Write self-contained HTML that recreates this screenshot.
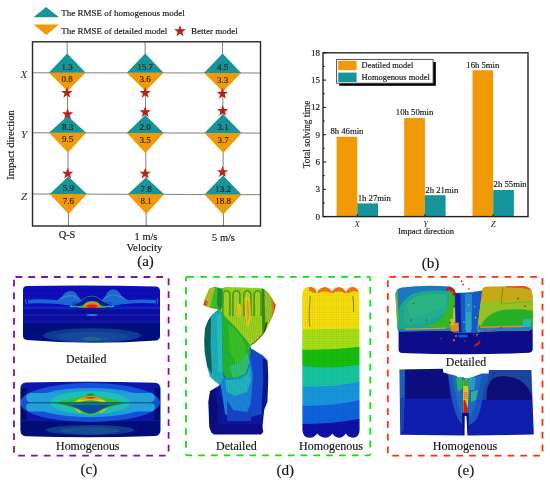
<!DOCTYPE html>
<html><head><meta charset="utf-8"><title>Figure</title>
<style>
html,body{margin:0;padding:0;background:#fff;}
svg{display:block;font-family:"Liberation Serif",serif;}
text{fill:#141414;stroke:#141414;stroke-width:0.15px;}
</style></head>
<body>
<svg width="550" height="480" viewBox="0 0 550 480">
<defs>
<filter id="bl" x="-5%" y="-5%" width="110%" height="110%"><feGaussianBlur stdDeviation="0.5"/></filter>
<pattern id="lines" width="2.2" height="8" patternUnits="userSpaceOnUse" patternTransform="rotate(6)"><path d="M0.6,0 L0.6,8" stroke="#002010" stroke-opacity="0.2" stroke-width="0.7" fill="none"/></pattern>
<pattern id="mesh3" width="1.8" height="1.8" patternUnits="userSpaceOnUse"><path d="M0,0 L1.8,0 M0,0 L0,1.8" stroke="#001030" stroke-opacity="0.2" stroke-width="0.45" fill="none"/></pattern>
<pattern id="mesh2" width="2" height="2" patternUnits="userSpaceOnUse"><path d="M0,0 L2,0 M0,0 L0,2" stroke="#000" stroke-opacity="0.22" stroke-width="0.5" fill="none"/></pattern>
<pattern id="mesh" width="2.4" height="2.4" patternUnits="userSpaceOnUse"><path d="M0,0 L2.4,0 M0,0 L0,2.4" stroke="#000" stroke-opacity="0.16" stroke-width="0.5" fill="none"/></pattern>
</defs>
<rect width="550" height="480" fill="#fff"/>
<g id="pa">
<polygon points="33.5,17.2 59,17.2 46.2,7" fill="#15959a"/>
<polygon points="33.5,24.6 59,24.6 46.2,35" fill="#f09a08"/>
<text x="61.3" y="16.3" font-size="9">The RMSE of homogenous model</text>
<text x="61.3" y="34.2" font-size="9">The RMSE of detailed model</text>
<polygon points="180.00,25.00 181.46,29.19 185.90,29.28 182.36,31.97 183.64,36.22 180.00,33.68 176.36,36.22 177.64,31.97 174.10,29.28 178.54,29.19" fill="#b8221a"/>
<text x="191" y="34.2" font-size="9">Better model</text>
<line x1="67.1" y1="41.8" x2="68.5" y2="226" stroke="#808080" stroke-width="1"/>
<line x1="145.1" y1="41.8" x2="146.2" y2="226" stroke="#808080" stroke-width="1"/>
<line x1="222.5" y1="41.8" x2="223.5" y2="226" stroke="#808080" stroke-width="1"/>
<line x1="32.5" y1="72.8" x2="260.5" y2="73.0" stroke="#808080" stroke-width="1"/>
<line x1="32.5" y1="132.8" x2="260.5" y2="133.1" stroke="#808080" stroke-width="1"/>
<line x1="32.5" y1="194.0" x2="260.5" y2="194.7" stroke="#808080" stroke-width="1"/>
<rect x="32.5" y="41.8" width="228.0" height="184.2" fill="none" stroke="#262626" stroke-width="1.4"/>
<polygon points="48.800000000000004,72.8 85.6,72.8 67.2,53.5" fill="#15959a"/>
<polygon points="48.800000000000004,72.8 85.6,72.8 67.5,91.1" fill="#f09a08"/>
<text x="67.2" y="70.2" font-size="9" text-anchor="middle" style="stroke-width:0.1px">1.3</text>
<text x="67.2" y="82.3" font-size="9" text-anchor="middle" style="stroke-width:0.1px">0.8</text>
<polygon points="126.79999999999998,72.8 163.6,72.8 145.2,53.5" fill="#15959a"/>
<polygon points="126.79999999999998,72.8 163.6,72.8 145.5,90.9" fill="#f09a08"/>
<text x="145.2" y="70.2" font-size="9" text-anchor="middle" style="stroke-width:0.1px">15.7</text>
<text x="145.2" y="82.3" font-size="9" text-anchor="middle" style="stroke-width:0.1px">3.6</text>
<polygon points="204.0,73 241.2,73 222.6,53.5" fill="#15959a"/>
<polygon points="204.0,73 241.2,73 222.9,91.5" fill="#f09a08"/>
<text x="222.6" y="70.4" font-size="9" text-anchor="middle" style="stroke-width:0.1px">4.5</text>
<text x="222.6" y="82.5" font-size="9" text-anchor="middle" style="stroke-width:0.1px">3.3</text>
<polygon points="48.99999999999999,132.8 86.19999999999999,132.8 67.6,115.9" fill="#15959a"/>
<polygon points="48.99999999999999,132.8 86.19999999999999,132.8 67.89999999999999,152.5" fill="#f09a08"/>
<text x="67.6" y="130.20000000000002" font-size="9" text-anchor="middle" style="stroke-width:0.1px">8.3</text>
<text x="67.6" y="142.3" font-size="9" text-anchor="middle" style="stroke-width:0.1px">9.5</text>
<polygon points="126.79999999999998,133 163.6,133 145.2,115" fill="#15959a"/>
<polygon points="126.79999999999998,133 163.6,133 145.5,153" fill="#f09a08"/>
<text x="145.2" y="130.4" font-size="9" text-anchor="middle" style="stroke-width:0.1px">2.0</text>
<text x="145.2" y="142.5" font-size="9" text-anchor="middle" style="stroke-width:0.1px">3.5</text>
<polygon points="204.5,133 241.5,133 223,114" fill="#15959a"/>
<polygon points="204.5,133 241.5,133 223.3,153" fill="#f09a08"/>
<text x="223" y="130.4" font-size="9" text-anchor="middle" style="stroke-width:0.1px">3.1</text>
<text x="223" y="142.5" font-size="9" text-anchor="middle" style="stroke-width:0.1px">3.7</text>
<polygon points="49.8,194 86.8,194 68.3,176.5" fill="#15959a"/>
<polygon points="49.8,194 86.8,194 68.6,214" fill="#f09a08"/>
<text x="68.3" y="191.4" font-size="9" text-anchor="middle" style="stroke-width:0.1px">5.9</text>
<text x="68.3" y="203.5" font-size="9" text-anchor="middle" style="stroke-width:0.1px">7.6</text>
<polygon points="127.8,194.2 164.2,194.2 146,177.39999999999998" fill="#15959a"/>
<polygon points="127.8,194.2 164.2,194.2 146.3,214.0" fill="#f09a08"/>
<text x="146" y="191.6" font-size="9" text-anchor="middle" style="stroke-width:0.1px">7.8</text>
<text x="146" y="203.7" font-size="9" text-anchor="middle" style="stroke-width:0.1px">8.1</text>
<polygon points="204.5,194.5 241.5,194.5 223,175.5" fill="#15959a"/>
<polygon points="204.5,194.5 241.5,194.5 223.3,214.5" fill="#f09a08"/>
<text x="223" y="191.9" font-size="9" text-anchor="middle" style="stroke-width:0.1px">13.2</text>
<text x="223" y="204.0" font-size="9" text-anchor="middle" style="stroke-width:0.1px">18.8</text>
<polygon points="66.90,86.90 68.31,90.96 72.61,91.05 69.18,93.64 70.43,97.75 66.90,95.30 63.37,97.75 64.62,93.64 61.19,91.05 65.49,90.96" fill="#b8221a"/>
<polygon points="145.20,86.90 146.61,90.96 150.91,91.05 147.48,93.64 148.73,97.75 145.20,95.30 141.67,97.75 142.92,93.64 139.49,91.05 143.79,90.96" fill="#b8221a"/>
<polygon points="222.40,87.80 223.81,91.86 228.11,91.95 224.68,94.54 225.93,98.65 222.40,96.20 218.87,98.65 220.12,94.54 216.69,91.95 220.99,91.86" fill="#b8221a"/>
<polygon points="67.60,108.20 69.01,112.26 73.31,112.35 69.88,114.94 71.13,119.05 67.60,116.60 64.07,119.05 65.32,114.94 61.89,112.35 66.19,112.26" fill="#b8221a"/>
<polygon points="145.20,106.20 146.61,110.26 150.91,110.35 147.48,112.94 148.73,117.05 145.20,114.60 141.67,117.05 142.92,112.94 139.49,110.35 143.79,110.26" fill="#b8221a"/>
<polygon points="222.70,104.90 224.11,108.96 228.41,109.05 224.98,111.64 226.23,115.75 222.70,113.30 219.17,115.75 220.42,111.64 216.99,109.05 221.29,108.96" fill="#b8221a"/>
<polygon points="67.70,167.70 69.11,171.76 73.41,171.85 69.98,174.44 71.23,178.55 67.70,176.10 64.17,178.55 65.42,174.44 61.99,171.85 66.29,171.76" fill="#b8221a"/>
<polygon points="145.20,167.60 146.61,171.66 150.91,171.75 147.48,174.34 148.73,178.45 145.20,176.00 141.67,178.45 142.92,174.34 139.49,171.75 143.79,171.66" fill="#b8221a"/>
<polygon points="222.50,166.10 223.91,170.16 228.21,170.25 224.78,172.84 226.03,176.95 222.50,174.50 218.97,176.95 220.22,172.84 216.79,170.25 221.09,170.16" fill="#b8221a"/>
<text x="24" y="78.0" font-size="11.2" font-style="italic" text-anchor="middle" style="fill:#232b40;stroke:none">X</text>
<text x="24" y="138.3" font-size="11.2" font-style="italic" text-anchor="middle" style="fill:#232b40;stroke:none">Y</text>
<text x="24" y="199.6" font-size="11.2" font-style="italic" text-anchor="middle" style="fill:#232b40;stroke:none">Z</text>
<text transform="translate(14,145) rotate(-90)" font-size="10.6" text-anchor="middle">Impact direction</text>
<text x="67" y="237.5" font-size="10.4" text-anchor="middle">Q-S</text>
<text x="146" y="239.5" font-size="10.4" text-anchor="middle">1 m/s</text>
<text x="223.5" y="240.5" font-size="10.4" text-anchor="middle">5 m/s</text>
<text x="144.5" y="250.5" font-size="10.8" text-anchor="middle">Velocity</text>
<text x="145.5" y="266" font-size="15" text-anchor="middle">(a)</text>
</g>
<g id="pb">
<rect x="336.6" y="136.79" width="20.7" height="79.81" fill="#f09a08"/>
<rect x="357.3" y="203.41" width="20.7" height="13.20" fill="#15959a"/>
<text x="346.95" y="134.19" font-size="8.7" text-anchor="middle">8h 46min</text>
<text x="374.25000000000006" y="200.81" font-size="8.7" text-anchor="middle">1h 27min</text>
<line x1="357.3" y1="216.6" x2="357.3" y2="214.1" stroke="#111" stroke-width="1"/>
<rect x="404.2" y="118.05" width="20.7" height="98.55" fill="#f09a08"/>
<rect x="424.9" y="195.21" width="20.7" height="21.39" fill="#15959a"/>
<text x="414.54999999999995" y="115.45" font-size="8.7" text-anchor="middle">10h 50min</text>
<text x="441.85" y="192.61" font-size="8.7" text-anchor="middle">2h 21min</text>
<line x1="424.9" y1="216.6" x2="424.9" y2="214.1" stroke="#111" stroke-width="1"/>
<rect x="472.5" y="70.27" width="20.7" height="146.33" fill="#f09a08"/>
<rect x="493.2" y="190.03" width="20.7" height="26.57" fill="#15959a"/>
<text x="482.84999999999997" y="67.67" font-size="8.7" text-anchor="middle">16h 5min</text>
<text x="510.15000000000003" y="187.43" font-size="8.7" text-anchor="middle">2h 55min</text>
<line x1="493.2" y1="216.6" x2="493.2" y2="214.1" stroke="#111" stroke-width="1"/>
<rect x="323" y="52.8" width="205" height="163.8" fill="none" stroke="#262626" stroke-width="1.4"/>
<line x1="323" y1="216.60" x2="326" y2="216.60" stroke="#111" stroke-width="1"/>
<text x="320" y="219.60" font-size="9" text-anchor="end">0</text>
<line x1="323" y1="202.95" x2="324.8" y2="202.95" stroke="#111" stroke-width="0.9"/>
<line x1="323" y1="189.30" x2="326" y2="189.30" stroke="#111" stroke-width="1"/>
<text x="320" y="192.30" font-size="9" text-anchor="end">3</text>
<line x1="323" y1="175.65" x2="324.8" y2="175.65" stroke="#111" stroke-width="0.9"/>
<line x1="323" y1="162.00" x2="326" y2="162.00" stroke="#111" stroke-width="1"/>
<text x="320" y="165.00" font-size="9" text-anchor="end">6</text>
<line x1="323" y1="148.35" x2="324.8" y2="148.35" stroke="#111" stroke-width="0.9"/>
<line x1="323" y1="134.70" x2="326" y2="134.70" stroke="#111" stroke-width="1"/>
<text x="320" y="137.70" font-size="9" text-anchor="end">9</text>
<line x1="323" y1="121.05" x2="324.8" y2="121.05" stroke="#111" stroke-width="0.9"/>
<line x1="323" y1="107.40" x2="326" y2="107.40" stroke="#111" stroke-width="1"/>
<text x="320" y="110.40" font-size="9" text-anchor="end">12</text>
<line x1="323" y1="93.75" x2="324.8" y2="93.75" stroke="#111" stroke-width="0.9"/>
<line x1="323" y1="80.10" x2="326" y2="80.10" stroke="#111" stroke-width="1"/>
<text x="320" y="83.10" font-size="9" text-anchor="end">15</text>
<line x1="323" y1="66.45" x2="324.8" y2="66.45" stroke="#111" stroke-width="0.9"/>
<line x1="323" y1="52.80" x2="326" y2="52.80" stroke="#111" stroke-width="1"/>
<text x="320" y="55.80" font-size="9" text-anchor="end">18</text>
<rect x="339.2" y="62" width="96.6" height="23.8" fill="#000"/>
<rect x="336.6" y="59.4" width="96.5" height="23.8" fill="#fff" stroke="#444" stroke-width="0.9"/>
<rect x="338.2" y="60.8" width="18.4" height="9.4" fill="#f09a08"/>
<rect x="338.2" y="72.6" width="18.4" height="9.4" fill="#15959a"/>
<text x="361.6" y="68.2" font-size="8.45">Deatiled model</text>
<text x="361.6" y="80.2" font-size="8.45">Homogenous model</text>
<text x="357.3" y="226.6" font-size="8.8" font-style="italic" text-anchor="middle" style="fill:#232b40;stroke:none">X</text>
<text x="425.6" y="226.6" font-size="8.6" font-style="italic" text-anchor="middle" style="fill:#232b40;stroke:none">Y</text>
<text x="493.2" y="226.6" font-size="8.8" font-style="italic" text-anchor="middle" style="fill:#232b40;stroke:none">Z</text>
<text x="426" y="234.4" font-size="8.5" text-anchor="middle">Impact direction</text>
<text transform="translate(309.6,134.4) rotate(-90)" font-size="9.3" text-anchor="middle">Total solving time</text>
<text x="430.5" y="268" font-size="15.2" text-anchor="middle">(b)</text>
</g>
<g id="pc">
<rect x="14" y="277" width="154.6" height="178.60000000000002" fill="none" stroke="#7a12b4" stroke-width="1.8" stroke-dasharray="6.8 6" rx="1.5"/>
<clipPath id="cpC1"><path d="M27,286 Q90,284.6 156,286.6 Q160,287 160,291 L160,336 Q160,340 156,340.4 Q92,345.5 27,340 Q23,339.6 23,336 L23,290 Q23,286.2 27,286 Z"/></clipPath>
<g clip-path="url(#cpC1)" filter="url(#bl)">
<rect x="20" y="283" width="145" height="64" fill="#0909ac"/>
<rect x="20" y="283" width="145" height="17" fill="#0b0cbc"/>
<rect x="20" y="290" width="145" height="1.2" fill="#0707a0"/>
<rect x="20" y="294.6" width="145" height="1.6" fill="#0707a0"/>
<rect x="20" y="306.5" width="145" height="3" fill="#0b22d0"/>
<rect x="20" y="309.5" width="145" height="4.5" fill="#070e98"/>
<rect x="20" y="314" width="145" height="2.6" fill="#0a1cb4"/>
<rect x="20" y="316.6" width="145" height="4.4" fill="#070e98"/>
<rect x="20" y="321" width="145" height="2.4" fill="#0918aa"/>
<rect x="20" y="323.4" width="145" height="24" fill="#060c7c"/>
<ellipse cx="92" cy="335.5" rx="49" ry="7.2" fill="#103c92"/>
<ellipse cx="92" cy="336.5" rx="36" ry="5" fill="#144a9a"/>
<ellipse cx="92" cy="338.8" rx="10" ry="2" fill="#1a6a86"/>
<path d="M28,300 Q40,298.5 60,300.5 Q72,302 80,306 L104,306 Q112,302 125,300.5 Q140,299 156,300 L156,303.4 Q140,302.6 125,304 Q112,305.4 104,308.4 L80,308.4 Q70,305 58,304 Q40,302.6 28,303.6 Z" fill="#1668d4"/>
<path d="M26,298.6 Q24.6,302 27,304.6" stroke="#2a7ad8" stroke-width="1" fill="none"/>
<path d="M157,298.6 Q159,302 156.6,304.6" stroke="#2a7ad8" stroke-width="1" fill="none"/>
<path d="M54,301.4 Q60,299.5 63.5,294.5 Q66,291 70.5,291 Q75,291 77,295 Q79.5,299.6 84,301.6 Q70,304.4 54,301.4 Z" fill="#1e68cc"/>
<path d="M99,301.6 Q104,299.6 106.5,294 Q108.5,289.4 113,289.4 Q117.5,289.4 120,293.5 Q123.5,299.5 132,301.2 Q114,304.4 99,301.6 Z" fill="#1e68cc"/>
<path d="M60,299 Q66,295.6 70.5,295.6 Q75,295.6 79,299" stroke="#3088d8" stroke-width="1.2" fill="none"/>
<path d="M104,298.6 Q109,295 113,295 Q118,295 124,298.6" stroke="#3088d8" stroke-width="1.2" fill="none"/>
<path d="M74,306.4 Q79,305 83,301 Q87,297.4 91.8,297.4 Q96.6,297.4 100.6,301 Q104.6,305 110,306.4 L110,308 L74,308 Z" fill="#0a14a0"/>
<path d="M72,305.6 Q79,304.6 83,300.6 Q87,297 91.8,297 Q96.6,297 100.6,300.6 Q104.6,304.6 112,305.6" fill="none" stroke="#060c60" stroke-width="1"/>
<path d="M72,304.4 Q79,303.6 83,299.6 Q87,296 91.8,296 Q96.6,296 100.6,299.6 Q104.6,303.6 112,304.4" fill="none" stroke="#2270d0" stroke-width="0.9"/>
<path d="M70,305.4 Q78,306.6 84,306 L84,307.8 L70,307 Z" fill="#22b0c0"/>
<path d="M114,305.4 Q106,306.6 100,306 L100,307.8 L114,307 Z" fill="#22b0c0"/>
<path d="M78,306.4 L84,305 L84,307.8 L78,307.6 Z" fill="#30c040"/>
<path d="M106,306.4 L100,305 L100,307.8 L106,307.6 Z" fill="#30c040"/>
<path d="M81.4,307.8 Q84,303.6 86.4,302 Q91.8,300.2 97.6,302 Q100,303.6 102.6,307.8 Z" fill="#34b834"/>
<path d="M83,307.8 Q85,304 87.6,302.8 Q91.8,301.4 96.4,302.8 Q99,304 101,307.8 Z" fill="#c8a820"/>
<path d="M84,307.8 Q86,304.6 88,303.6 Q91.8,302.6 96,303.6 Q98,304.6 100,307.8 Z" fill="#f06814"/>
<ellipse cx="92" cy="306.2" rx="5.4" ry="1.7" fill="#e62410"/>
<rect x="76" y="307.8" width="32" height="1.8" fill="#0a16a0"/>
<ellipse cx="92" cy="315" rx="6" ry="0.9" fill="#2a7ad8"/>
</g>
<clipPath id="cpC2"><path d="M26,382.6 Q90,381 155,382.8 Q160.5,383.4 160.5,389 L160.5,430 Q160.5,435.6 155,436 Q90,438.4 26,436.2 Q20.4,435.8 20.4,430 L20.4,389 Q20.4,383 26,382.6 Z"/></clipPath>
<g clip-path="url(#cpC2)" filter="url(#bl)">
<rect x="18" y="380" width="146" height="60" fill="#0a16a8"/>
<rect x="18" y="421" width="146" height="20" fill="#060e78"/>
<rect x="18" y="388" width="8.6" height="32" fill="#050a60" opacity="0.85"/>
<rect x="154.4" y="388" width="8" height="32" fill="#050a60" opacity="0.85"/>
<ellipse cx="90" cy="402.6" rx="70" ry="19.5" fill="#1450d8"/>
<rect x="24" y="391.5" width="133" height="21" rx="10" fill="#1450d8"/>
<ellipse cx="90" cy="402.6" rx="58" ry="14.6" fill="#1e9ad8"/>
<rect x="26" y="393" width="60" height="9.4" rx="4.7" fill="#22a0dc"/>
<rect x="26" y="402.8" width="60" height="8.6" rx="4.3" fill="#22a0dc"/>
<rect x="95" y="393" width="60" height="9.4" rx="4.7" fill="#22a0dc"/>
<rect x="95" y="402.8" width="60" height="8.6" rx="4.3" fill="#22a0dc"/>
<ellipse cx="90" cy="402.6" rx="40" ry="11.4" fill="#1fc0b4"/>
<path d="M55,403 Q68,398.8 78,397.6 Q85,396.6 87.6,394.2 Q90.5,392 93.4,394.2 Q96,396.6 103,397.6 Q113,398.8 126,403 Z" fill="#34be36"/>
<ellipse cx="90.5" cy="394.6" rx="3.6" ry="1.3" fill="#1c9a38"/>
<path d="M74.6,401.8 Q83,396.6 90.5,396.2 Q98,396.6 106.4,401.8 L101.6,401.8 Q96,400.4 90.5,400.4 Q85,400.4 79.4,401.8 Z" fill="#e4d424"/>
<path d="M79,399.8 Q85.4,396.6 90.5,396.2 Q95.6,396.6 102,399.8 Q95.6,399.4 90.5,399.6 Q85.4,399.4 79,399.8 Z" fill="#f08418"/>
<path d="M85,397.8 Q90.5,396 96,397.8 Q90.5,399.4 85,397.8 Z" fill="#de2410"/>
<path d="M79,402.8 Q85,400.4 90.5,400.4 Q96,400.4 102,402.8 Z" fill="#269a48"/>
<path d="M55,403.2 L126,403.2 Q110,406.4 101,412.6 Q90.5,418.4 80,412.6 Q71,406.4 55,403.2 Z" fill="#3cc438"/>
<path d="M73,407.4 Q78,409 81.6,412 L79.6,413 Q76,410 73,407.4 Z" fill="#eab020"/>
<path d="M108,407.4 Q103,409 99.4,412 L101.4,413 Q105,410 108,407.4 Z" fill="#eab020"/>
<path d="M57,403.4 L124,403.4 Q108,405.6 99,411 Q90.5,416.6 82,411 Q73,405.6 57,403.4 Z" fill="#146a98"/>
<path d="M70,404.6 Q90.5,403 111,404.6 Q102,408 98,411 Q90.5,416 83,411 Q79,408 70,404.6 Z" fill="#0e4a9c"/>
<path d="M57,403.4 L124,403.4 L112,405 L69,405 Z" fill="#1a7a70"/>
<path d="M27,402.8 L153,402.8" stroke="#0c4460" stroke-width="0.9"/>
<ellipse cx="90" cy="430" rx="44" ry="5" fill="#103e90"/>
<ellipse cx="90" cy="430.6" rx="30" ry="3.4" fill="#145090"/>
</g>
<text x="86.2" y="363" font-size="11.9" text-anchor="middle">Detailed</text>
<text x="87.8" y="450" font-size="11.9" text-anchor="middle">Homogenous</text>
<text x="89" y="474.2" font-size="15.2" text-anchor="middle">(c)</text>
</g>
<g id="pd">
<rect x="186" y="276.9" width="184.3" height="178.40000000000003" fill="none" stroke="#10e010" stroke-width="1.8" stroke-dasharray="6.8 6" rx="1.5"/>
<clipPath id="cpD1"><path d="M203.3,305 L205,298 L209.2,288.6 L215,286.7 L221,288.6 L226,287 L244,287.6 L262.7,288.2 L268,292 L272,298 L275.8,305 L274.4,312 L271,320 L267,327.6 L265,332 L259.5,338.6 L254,343.4 L250.2,345.8 L251.4,348.4 L257,352 L263,355.6 L267.6,360.6 L268.3,377 L267.5,401.7 L264.2,410 L262.5,426.7 L263.3,432 L261,434.6 L214,434.6 L211.2,432.6 L209.2,426.7 L208.3,401.7 L210,391 L214.6,388.2 L218.6,385 L214,380.4 L210,376.7 L207,366 L204.6,352 L204.2,340 L205,328.3 L208,320.6 L211.7,315 L216.4,311 L218,309.4 L210,308 Z"/></clipPath>
<g clip-path="url(#cpD1)" filter="url(#bl)">
<rect x="200" y="284" width="80" height="156" fill="#1a60d8"/>
<path d="M200,284 L280,284 L280,336 L262,342 L250,346 L246,340 L236,328 L226,318 L220,311 L200,311 Z" fill="#a0d41c"/>
<path d="M200,300 L206,294 L210,286 L223,286 L224,300 L221,311 L208,309.6 Z" fill="#44c030"/>
<path d="M202,307 L205,297 L209.2,288 L215,288 L212,299 L210,308.6 Z" fill="#b4c424"/>
<path d="M202,307.6 L204.2,299.6 L207.6,301 L207,308 Z" fill="#d07018"/>
<path d="M202.6,307.4 L203.6,302 L205.4,303 L205,308 Z" fill="#c04818"/>
<path d="M217.4,287 L222,288.4 L223,303 L219.6,311 L217,305 Z" fill="#1c9430"/>
<path d="M263,288 L268,292 L272,298 L275.8,305 L274.4,312 L271,320 L267,328 L264.6,322 L266,305 Z" fill="#98c828"/>
<path d="M270.6,296 L276,305 L274.4,312 L270.8,321 L272,308 Z" fill="#d88a20"/>
<path d="M273.4,301 L276,305 L274.6,311 L273.6,308 Z" fill="#c85a18"/>
<path d="M261.6,288.6 L264.4,289 L265.4,330 L262.4,335 Z" fill="#3a8a20"/>
<path d="M222.9,316 L222.9,293.4 Q226.4,287.6 229.9,293.4 L229.9,316" fill="none" stroke="#4aa41c" stroke-width="1.6"/>
<path d="M225.20000000000002,314 L225.20000000000002,294 Q226.4,292 227.6,294 L227.6,314" fill="none" stroke="#c0dc28" stroke-width="0.8"/>
<path d="M232.9,316 L232.9,293.4 Q236.4,287.6 239.9,293.4 L239.9,316" fill="none" stroke="#4aa41c" stroke-width="1.6"/>
<path d="M235.20000000000002,314 L235.20000000000002,294 Q236.4,292 237.6,294 L237.6,314" fill="none" stroke="#c0dc28" stroke-width="0.8"/>
<path d="M243.9,316 L243.9,293.4 Q247.4,287.6 250.9,293.4 L250.9,316" fill="none" stroke="#4aa41c" stroke-width="1.6"/>
<path d="M246.20000000000002,314 L246.20000000000002,294 Q247.4,292 248.6,294 L248.6,314" fill="none" stroke="#c0dc28" stroke-width="0.8"/>
<path d="M254.10000000000002,316 L254.10000000000002,293.4 Q257.6,287.6 261.1,293.4 L261.1,316" fill="none" stroke="#4aa41c" stroke-width="1.6"/>
<path d="M256.40000000000003,314 L256.40000000000003,294 Q257.6,292 258.8,294 L258.8,314" fill="none" stroke="#c0dc28" stroke-width="0.8"/>
<path d="M244.6,298 Q247.6,295.6 250,299 L251,316 Q249.6,324 247.4,327 Q245,320 244.6,298 Z" fill="#e8d820"/>
<path d="M246.4,300 Q248,299 249,302 L249.6,315 Q248.6,321 247.6,322.6 Q246.2,316 246.4,300 Z" fill="#f0a818"/>
<path d="M237,304 Q239.4,302.6 241,305 L241.6,314 Q240,318 238.6,317 Q237,312 237,304 Z" fill="#ecc81c"/>
<path d="M221,311 L226,318 L236,328 L246,340 L250.2,346 L251.4,349 L249,358 L247,372 L240,378 L227,380 L223,372 L222,340 Z" fill="#24b82a"/>
<path d="M228,324 Q236,328 242,338 L246,348 L244,360 L236,364 L230,352 Z" fill="#3cc428"/>
<path d="M200,332 L205,328.3 L208,320.6 L211.7,315 L217,310.6 L221,311 L222.6,372 L224.6,382 L218.6,386 L210,377 L204,352 Z" fill="#20b0bc"/>
<path d="M203,340 L205,328.3 L208,320.6 L211,316 L210.6,345 L212,374 L207,366 L204.6,352 Z" fill="#0e625c"/>
<path d="M216.6,316 L221.6,313 L222.6,372 L218.4,372 Z" fill="#26c4c8"/>
<path d="M250,345 L257,352 L263,355.6 L267.6,360.6 L268.3,377 L267.5,401.7 L264.2,410 L262.5,437 L250,437 L251,400 L253,372 L250.6,356 Z" fill="#1448d4"/>
<path d="M262.6,358 L267.6,361 L268.3,377 L267.5,401.7 L264.4,410 L263,432 L261,434 L262,400 L263.4,380 Z" fill="#0a1690"/>
<path d="M223,378 L240,378 L247,372 L250.6,362 L253,376 L251,400 L249,416 L233,420 L224,414 L220,396 L220.4,385 Z" fill="#1c84e0"/>
<path d="M225,380 L240,379 L247,374 L250,366 L251,380 L247,392 L235,396 L227,392 Z" fill="#22b8c0"/>
<path d="M229,366 L241,362 L247,352 L250,362 L245,374 L233,378 Z" fill="#30c474"/>
<path d="M208,402 L210,391 L215,388 L220.6,385 L223,400 L225,414 L235,421 L251,417 L262.6,414 L262.6,437 L212,437 L209.2,426 Z" fill="#0a12a0"/>
<path d="M208,402 L210,391 L214.6,388.4 L217,402 L218,425 L214,436 L211,432 Z" fill="#070c7c"/>
<rect x="209" y="424" width="56" height="12" fill="#080e8c"/>
<path d="M227,400 L233,410 L247,412 L251,404 L251,421 L227,421 Z" fill="#1444cc"/>
<path d="M266.6,322 L265,332 L259.5,338.6 L254,343.4 L250.6,346" fill="none" stroke="#203000" stroke-width="1.6" stroke-opacity="0.75"/>
<path d="M250.8,346.6 L251.8,349.4" fill="none" stroke="#20c0d0" stroke-width="1"/>
<rect x="200" y="284" width="80" height="156" fill="url(#lines)"/>
</g>
<path d="M216.4,382.6 L219,385 L216.6,387.2" stroke="#fff" stroke-width="0.9" fill="none" opacity="0.9"/>
<clipPath id="cpD2"><path d="M302.2,297 Q302,289.4 306,287.6 Q311,285.6 315,288.8 L317.3,291.6 Q319,288.2 324.6,286.9 Q330,287.4 331.7,291.6 Q334,287.8 338.6,286.9 Q344,287.6 345.7,291.6 Q348,287.8 352,286.8 Q357.4,287 359,292.4 L359.4,298 L359.6,430 Q359.4,437.6 352.6,437.8 Q348,437.6 345.8,433.6 Q343,437.8 339,437.8 Q334.6,437.6 332.5,433.6 Q329.6,437.8 325,437.8 Q320,437.6 317.3,433.6 Q314.4,437.8 309.6,437.8 Q302.6,437.4 302.4,430 Z"/></clipPath>
<g clip-path="url(#cpD2)" filter="url(#bl)">
<rect x="300" y="285" width="62" height="154" fill="#f8e010"/>
<ellipse cx="310.6" cy="291.6" rx="5.6" ry="5.2" fill="#f07814"/>
<ellipse cx="324.6" cy="291.6" rx="7.2" ry="5.2" fill="#f07814"/>
<ellipse cx="338.8" cy="291.6" rx="7.2" ry="5.2" fill="#f07814"/>
<ellipse cx="352.4" cy="291.6" rx="6.2" ry="5.2" fill="#f07814"/>
<path d="M300,293 Q306,289.4 311,291.4 Q313,293 317.3,293.6 Q324.6,289.6 331.7,293.6 Q338.6,289.6 345.7,293.6 Q349,293 352,291.6 Q357,290 362,294 L362,300 L300,300 Z" fill="#f8e010"/>
<path d="M300,284 L309,284 L309,296 L300,296 Z" fill="#f8e010"/>
<path d="M300,329.6 Q331,328.6 362,328.8 L362,440 L300,440 Z" fill="#a8e018"/>
<path d="M300,349.5 Q331,350.5 362,346.5 L362,440 L300,440 Z" fill="#18c010"/>
<path d="M300,366 Q331,369.5 362,364.5 L362,440 L300,440 Z" fill="#18c8a0"/>
<path d="M300,386 Q331,388.5 362,381 L362,440 L300,440 Z" fill="#1898e0"/>
<path d="M300,405.5 Q331,407 362,399.5 L362,440 L300,440 Z" fill="#1064e0"/>
<path d="M300,424 Q331,424 362,418.5 L362,440 L300,440 Z" fill="#0a12a8"/>
<path d="M310.4,296 Q308.6,310 309.6,326.6" stroke="#9a8418" stroke-width="1.1" fill="none"/>
<path d="M352.8,296 Q354,304 353.4,312" stroke="#9a8418" stroke-width="1.1" fill="none"/>
<rect x="300" y="285" width="62" height="154" fill="url(#mesh)"/>
<rect x="18" y="380" width="146" height="60" fill="url(#mesh3)"/>
</g>
<text x="236.4" y="449.8" font-size="12" text-anchor="middle">Detailed</text>
<text x="331" y="449.8" font-size="12" text-anchor="middle">Homogenous</text>
<text x="285.3" y="475" font-size="15.2" text-anchor="middle">(d)</text>
</g>
<g id="pe">
<rect x="387.8" y="276.9" width="154.7" height="178.8" fill="none" stroke="#fa340c" stroke-width="1.8" stroke-dasharray="6.8 6" rx="1.5"/>
<g filter="url(#bl)">
<path d="M398.6,330 L532.6,328 L532.8,348.6 Q532.8,352.4 529,352.8 Q466,355.6 402,353 Q398.6,352.8 398.6,349.4 Z" fill="#0a0e8c"/>
<path d="M453,293 L468,292.4 L483,290.4 L479,333 L453,333 Z" fill="#1658c8"/>
<path d="M455,293.4 L460.4,293.4 L461.4,332 L456,332 Z" fill="#0c1ea0"/>
<path d="M465,294 L472,294 L472,330 L465,330 Z" fill="#2088c8"/>
<path d="M466,312 L471,312 L471,332 L466,332 Z" fill="#28a8b8"/>
<clipPath id="cpE1"><path d="M395.4,294 Q396,288 402,287.4 Q425,284.6 450,286.6 L454.6,290 L455.4,330.6 L401,331.6 Q398,331.6 397.4,328 Z"/></clipPath>
<g clip-path="url(#cpE1)">
<rect x="393" y="283" width="66" height="52" fill="#1c78bc"/>
<path d="M397.6,312 Q402,300 412,294 Q422,290.4 436,290.6 L452,291 L453,322 Q440,324 430,328.4 L399,329.4 Z" fill="#1aa68c"/>
<path d="M404,308 Q410,296 428,293.6 L447,294 L448,312 Q436,318 424,323 L404,325 Z" fill="#22ae8c"/>
<path d="M408,302 Q416,294.6 436,294 L446,294.4 L447,306 Q430,312 412,318 Q406,312 408,302 Z" fill="#2ab484"/>
<path d="M449,291 L455,291 L455.4,331 L417,331 Q426,326.4 434,323.6 Q445,318 447.6,308 Q449.4,300 449,291 Z" fill="#36b624"/>
<path d="M398,329.4 L430,327.6 L455,328.6 L455,332 L398,332 Z" fill="#2a7cc8"/>
<path d="M405,328.6 L446,327.6 L446,328.8 L405,329.8 Z" fill="#d8a020"/>
<path d="M395,292 L397.6,290 L398.6,328 L397,330 Z" fill="#58b848"/>
<path d="M395,298 L396.2,298 L397.2,320 L396,320 Z" fill="#d8b020"/>
<path d="M453.4,308 L455.6,308 L455.6,322 L453,322 Z" fill="#d8c420"/>
<path d="M453.6,323 L456,323 L456,331 L452.6,331 Z" fill="#e88418"/>
</g>
<clipPath id="cpE2"><path d="M482.4,288.4 Q484,286.6 488,286.4 L524,286 Q532,287 532.8,295 L532.8,326 Q532,330.6 528,330.6 L478,331.4 L477.6,328 Z"/></clipPath>
<g clip-path="url(#cpE2)">
<rect x="475" y="284" width="60" height="50" fill="#c8a818"/>
<path d="M475,306 Q500,297 535,300 L535,334 L475,334 Z" fill="#98c020"/>
<path d="M475,300 L482,300 L481,334 L475,334 Z" fill="#98c020"/>
<path d="M480,328 Q486,312 506,309.6 Q520,308.4 535,311 L535,334 L480,334 Z" fill="#28b028"/>
<path d="M477,326.6 L528,325.6 L533,327 L533,332 L477,332 Z" fill="#2a78c8"/>
<path d="M480,326.4 L524,325.4 L524,327 L480,328 Z" fill="#e09020"/>
<path d="M523,319 L530.6,319 L530.6,327 L523,327 Z" fill="#28b8b0"/>
<path d="M506,286 L524,285.6 Q531,286.4 532.6,292 L530,290 Q526,287.6 506,287.6 Z" fill="#d85818"/>
<path d="M502.6,287 L503.4,287 L501.4,304 L500.6,304 Z" fill="#8a7a18"/>
<path d="M501,304 L531,301.4" stroke="#8a8a18" stroke-width="0.5" fill="none"/>
</g>
</g>
<circle cx="448" cy="288.4" r="1.25" fill="#cc1414"/><circle cx="449.6" cy="288" r="1.25" fill="#cc1414"/><circle cx="451.2" cy="288.6" r="1.25" fill="#cc1414"/><circle cx="452.6" cy="289.6" r="1.25" fill="#cc1414"/><circle cx="453.8" cy="290.8" r="1.25" fill="#cc1414"/><circle cx="447.6" cy="289.8" r="1.25" fill="#cc1414"/><circle cx="454.4" cy="292.4" r="1.25" fill="#cc1414"/><circle cx="453.8" cy="294.6" r="1.25" fill="#cc1414"/>
<path d="M450.6,323.6 L458.6,322.6 L459,331.6 L451,331.6 Z" fill="#e89018" filter="url(#bl)"/>
<path d="M450,319 L454,318.6 L454.4,325 L450.4,325.6 Z" fill="#c8c020" filter="url(#bl)"/>
<ellipse cx="477.4" cy="344" rx="3.2" ry="1.1" transform="rotate(-28 477.4 344)" fill="#d01818"/>
<ellipse cx="463" cy="336" rx="5" ry="1.6" fill="#1a58c0" filter="url(#bl)"/>
<circle cx="449" cy="288.6" r="0.85" fill="#d01818"/><circle cx="450.6" cy="289.4" r="0.85" fill="#d01818"/><circle cx="452" cy="290.6" r="0.85" fill="#d01818"/><circle cx="451" cy="291.8" r="0.85" fill="#d01818"/><circle cx="453.6" cy="292.8" r="0.85" fill="#d01818"/><circle cx="455" cy="299" r="0.85" fill="#d01818"/><circle cx="454" cy="306" r="0.85" fill="#d01818"/><circle cx="450" cy="322.6" r="0.85" fill="#d01818"/><circle cx="413.6" cy="303.6" r="0.85" fill="#d01818"/><circle cx="411" cy="320" r="0.85" fill="#d01818"/><circle cx="426.6" cy="320" r="0.85" fill="#d01818"/><circle cx="461.6" cy="281.2" r="0.85" fill="#d01818"/><circle cx="463" cy="284.6" r="0.85" fill="#d01818"/><circle cx="469" cy="289" r="0.85" fill="#d01818"/><circle cx="474" cy="334" r="0.85" fill="#d01818"/><circle cx="476.6" cy="336" r="0.85" fill="#d01818"/><circle cx="479.6" cy="341" r="0.85" fill="#d01818"/><circle cx="477.6" cy="344.6" r="0.85" fill="#d01818"/><circle cx="474.6" cy="346" r="0.85" fill="#d01818"/><circle cx="441" cy="338.6" r="0.85" fill="#d01818"/><circle cx="453.6" cy="340.6" r="0.85" fill="#d01818"/><circle cx="465" cy="341" r="0.85" fill="#d01818"/><circle cx="518" cy="298.6" r="0.85" fill="#d01818"/><circle cx="525" cy="306" r="0.85" fill="#d01818"/><circle cx="479.6" cy="326" r="0.85" fill="#d01818"/><circle cx="485" cy="330.6" r="0.85" fill="#d01818"/><circle cx="493" cy="330.6" r="0.85" fill="#d01818"/><circle cx="501" cy="327.6" r="0.85" fill="#d01818"/>
<circle cx="475.6" cy="317.6" r="0.8" fill="#e8d020"/><circle cx="456" cy="336" r="0.8" fill="#e8d020"/><circle cx="454" cy="340" r="0.8" fill="#e8d020"/><circle cx="472" cy="292" r="0.8" fill="#e8d020"/><circle cx="468.6" cy="305" r="0.8" fill="#e8d020"/>
<circle cx="474.6" cy="306.6" r="0.9" fill="#20c8a0"/><circle cx="477" cy="334.6" r="0.9" fill="#20c8a0"/><circle cx="479" cy="331" r="0.9" fill="#20c8a0"/><circle cx="464" cy="322" r="0.9" fill="#20c8a0"/>
<clipPath id="cpE3"><path d="M399.4,369.6 L442.8,368.8 L443.4,372.6 L449,374 L455,375.6 L459,377.4 L462.6,377 L466,378.4 L470,377.8 L474,376.4 L478,375 L482,373.6 L488.6,373.4 L489,370 L531.4,370 L533.8,434.6 L467.4,435.6 L467,427 L466.4,416 L464.8,416 L464.6,427 L464.6,435.6 L400.2,434.8 Z"/></clipPath>
<g clip-path="url(#cpE3)" filter="url(#bl)">
<rect x="396" y="364" width="140" height="74" fill="#1220b8"/>
<path d="M404.6,369 L444,368 L447.6,374 L450,398.4 L404,398.4 Z" fill="#0a0c84"/>
<path d="M399,368 L405,368 L404.6,398 L403.6,420 L400,434 L399,434 Z" fill="#2064c8"/>
<path d="M400,398 L404,398 L403.6,430 L400,434 Z" fill="#1a48c0"/>
<path d="M488,368 L533,368 L534,400 L478,400 L483,385 Z" fill="#1c48a8"/>
<path d="M486.6,400 Q486,377 500,376.4 Q520,375.4 528,388 Q532,394 532.6,400 Z" fill="#0a0c7c"/>
<path d="M447,372 L489,372 L488,380 Q484,386 482.6,396 Q481,412 476,420 Q470,426 466,426 Q460,424 456.6,416 Q452,404 450.6,392 Q449.6,380 447,372 Z" fill="#1c5cc8"/>
<path d="M452,376 L482,376 Q478,392 475,406 Q472,416 466,420 Q460,416 458,406 Q455,392 452,376 Z" fill="#2070d0"/>
<path d="M456,378 L462,376.6 L463,388 L458,392 Z" fill="#28c060"/>
<path d="M468,377 L476,378 L474,390 L469,390 Z" fill="#28a8c0"/>
<path d="M471,392 L478,390 L476,400 L471,402 Z" fill="#30b8a0"/>
<path d="M463.4,380 L468,380 L468.6,392 L468,404 L467,412.6 L463.6,412.6 L463,398 Z" fill="#e8d020"/>
<path d="M463.4,379 L468,379 L468,386 L463.4,386 Z" fill="#30b838"/>
<path d="M463.6,392 L468.4,392 L468,399 L463.4,399 Z" fill="#f0a018"/>
<path d="M463.4,401 L465,399.6 L468,409 L467.4,413 L463.6,413 Z" fill="#e02010"/>
<path d="M462,413 L469,413 L468,436 L463,436 Z" fill="#0a0c84"/>
<rect x="396" y="364" width="140" height="74" fill="url(#mesh2)"/>
</g>
<text x="466" y="366.4" font-size="11.9" text-anchor="middle">Detailed</text>
<text x="465" y="450.2" font-size="12.1" text-anchor="middle">Homogenous</text>
<text x="466" y="474.8" font-size="15.2" text-anchor="middle">(e)</text>
</g>
</svg>
</body></html>
